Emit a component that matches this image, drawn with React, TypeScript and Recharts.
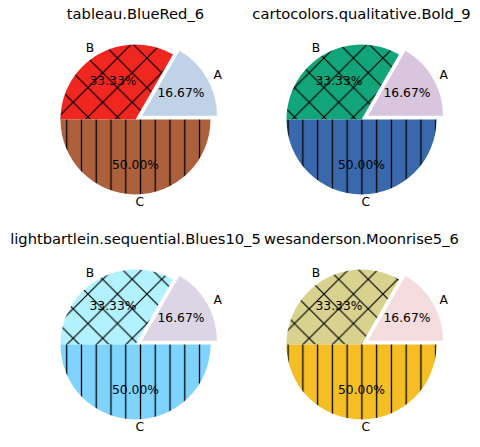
import React from "react";
import { PieChart, Pie, Cell } from "recharts";

const categories = ["A", "B", "C"];
const sliceValues = [1, 2, 3];

const titles = [
  "tableau.BlueRed_6",
  "cartocolors.qualitative.Bold_9",
  "lightbartlein.sequential.Blues10_5",
  "wesanderson.Moonrise5_6",
];

// A (faded), B, C per panel
const paletteA = ["#C0D2E7", "#D9C5DD", "#DCD5E6", "#F5DCDE"];
const paletteB = ["#F02720", "#11A579", "#B2F2FF", "#D8D28E"];
const paletteC = ["#AC613C", "#3969AC", "#7FD4FF", "#F5BE25"];

const W = 480;
const H = 447;
const R = 75;
const centers = [
  [135.5, 119.5],
  [361.5, 119.5],
  [135.5, 344.5],
  [361.5, 344.5],
];
const EXPLODE = 0.1 * R;
const RAD = Math.PI / 180;
const FONT = "DejaVu Sans, sans-serif";

const data = categories.map((name, i) => ({ name, value: sliceValues[i] }));
const total = sliceValues.reduce((a, b) => a + b, 0);

const VSTEP = 14.76;
const DSTEP = 29.5;

const makeLabel = (which: "main" | "explode") => (props: any) => {
  const { cx, cy, midAngle, outerRadius, index, name, value } = props;
  if (which === "main" && index === 0) return null;
  if (which === "explode" && index !== 0) return null;
  const cos = Math.cos(-midAngle * RAD);
  const sin = Math.sin(-midAngle * RAD);
  const lx = cx + outerRadius * 1.1 * cos;
  const ly = cy + outerRadius * 1.1 * sin;
  const px = cx + outerRadius * 0.6 * cos;
  const py = cy + outerRadius * 0.6 * sin;
  const anchor = lx >= cx - 0.01 ? "start" : "end";
  return (
    <g key={`lbl-${which}-${index}`}>
      <text x={lx} y={ly} textAnchor={anchor} dominantBaseline="central" fontSize={12.3} fontFamily={FONT} fill="#000">
        {name}
      </text>
      <text x={px} y={py} textAnchor="middle" dominantBaseline="central" fontSize={12.3} fontFamily={FONT} fill="#000">
        {((value / total) * 100).toFixed(2)}%
      </text>
    </g>
  );
};

export default function App() {
  return (
    <div style={{ position: "absolute", left: 0, top: 0, width: W, height: H, background: "#fff" }}>
      <PieChart width={W} height={H} margin={{ top: 0, right: 0, bottom: 0, left: 0 }}>
        <defs>
          {centers.map((_, p) => (
            <React.Fragment key={p}>
              <pattern id={`hx${p}`} patternUnits="userSpaceOnUse" x={102.7} y={102.3} width={DSTEP} height={DSTEP}>
                <rect x={0} y={0} width={DSTEP} height={DSTEP} fill={paletteB[p]} />
                <path
                  d={[-1, 0, 1]
                    .map(
                      (k) =>
                        `M0,${k * DSTEP} L${DSTEP},${DSTEP + k * DSTEP} M0,${DSTEP + k * DSTEP} L${DSTEP},${k * DSTEP}`
                    )
                    .join(" ")}
                  stroke="#000"
                  strokeWidth={1.2}
                  fill="none"
                />
              </pattern>
              <pattern id={`hv${p}`} patternUnits="userSpaceOnUse" x={66.7 - VSTEP / 2} y={0} width={VSTEP} height={10}>
                <rect x={0} y={0} width={VSTEP} height={10} fill={paletteC[p]} />
                <line x1={VSTEP / 2} y1={-1} x2={VSTEP / 2} y2={11} stroke="#000" strokeWidth={1.3} />
              </pattern>
            </React.Fragment>
          ))}
        </defs>
        {centers.map(([cx, cy], p) => (
          <Pie
            key={`main${p}`}
            data={data}
            dataKey="value"
            nameKey="name"
            cx={cx}
            cy={cy}
            outerRadius={R}
            startAngle={0}
            endAngle={360}
            stroke="none"
            labelLine={false}
            label={makeLabel("main")}
            isAnimationActive={false}
          >
            <Cell fill="none" />
            <Cell fill={`url(#hx${p})`} />
            <Cell fill={`url(#hv${p})`} />
          </Pie>
        ))}
        {centers.map(([cx, cy], p) => (
          <Pie
            key={`exp${p}`}
            data={data}
            dataKey="value"
            nameKey="name"
            cx={cx + EXPLODE * Math.cos(30 * RAD)}
            cy={cy - EXPLODE * Math.sin(30 * RAD)}
            outerRadius={R}
            startAngle={0}
            endAngle={360}
            stroke="none"
            labelLine={false}
            label={makeLabel("explode")}
            isAnimationActive={false}
          >
            <Cell fill={paletteA[p]} />
            <Cell fill="none" />
            <Cell fill="none" />
          </Pie>
        ))}
      </PieChart>
      {centers.map(([cx, cy], p) => (
        <div
          key={`t${p}`}
          style={{
            position: "absolute",
            left: cx - 150,
            width: 300,
            top: cy - 119.5 + 4,
            textAlign: "center",
            fontFamily: FONT,
            fontSize: 14.7,
            lineHeight: "20px",
            color: "#000",
            whiteSpace: "nowrap",
          }}
        >
          {titles[p]}
        </div>
      ))}
    </div>
  );
}
